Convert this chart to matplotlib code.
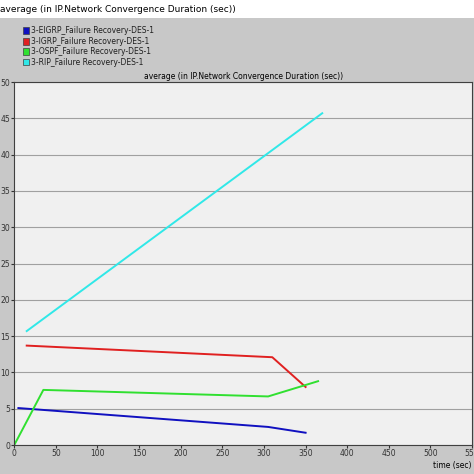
import matplotlib

matplotlib.use("Agg")
import matplotlib.pyplot as plt
from matplotlib.patches import Rectangle

# (time in sec, convergence duration in sec)
eigrp_t = [5, 305, 350]
eigrp_v = [5.1, 2.5, 1.7]
igrp_t = [15, 310, 350]
igrp_v = [13.7, 12.1, 8.0]
ospf_t = [0, 35, 305, 365]
ospf_v = [0.0, 7.6, 6.7, 8.8]
rip_t = [15, 370]
rip_v = [15.7, 45.7]

LABELS = [
    "3-EIGRP_Failure Recovery-DES-1",
    "3-IGRP_Failure Recovery-DES-1",
    "3-OSPF_Failure Recovery-DES-1",
    "3-RIP_Failure Recovery-DES-1",
]
COLORS = ["#1010c0", "#e02020", "#30e030", "#30e8e8"]

fig = plt.figure(figsize=(4.74, 4.74), dpi=100)
fig.patch.set_facecolor("#c8c8c8")

# window title strip
fig.patches.append(Rectangle((0, 0.962), 1, 0.038, transform=fig.transFigure,
                             facecolor="white", edgecolor="none"))
fig.text(0.0, 0.981, "average (in IP.Network Convergence Duration (sec))",
         fontsize=6.5, va="center", ha="left")

ax = fig.add_axes([0.03, 0.061, 0.966, 0.766])
ax.set_facecolor("#f0f0f0")
series = [(eigrp_t, eigrp_v), (igrp_t, igrp_v), (ospf_t, ospf_v), (rip_t, rip_v)]
for (t, v), c in zip(series, COLORS):
    ax.plot(t, v, color=c, lw=1.4)

ax.set_xlim(0, 550)
ax.set_ylim(0, 50)
ax.set_xticks(range(0, 551, 50))
ax.set_yticks(range(0, 51, 5))
ax.tick_params(labelsize=5.5, length=2, pad=1, colors="#333333")
ax.yaxis.grid(True, color="#a0a0a0", lw=0.8)
ax.set_axisbelow(True)
for s in ax.spines.values():
    s.set_color("#404040")
ax.set_title("average (in IP.Network Convergence Duration (sec))",
             fontsize=5.5, pad=2)
fig.text(0.995, 0.008, "time (sec)", fontsize=5.5, ha="right", va="bottom")

# legend block
for i, (lab, c) in enumerate(zip(LABELS, COLORS)):
    y = 0.935 - i * 0.022
    fig.patches.append(Rectangle((0.048, y - 0.007), 0.013, 0.014,
                                 transform=fig.transFigure, facecolor=c,
                                 edgecolor="#404040", lw=0.5))
    fig.text(0.066, y, lab, fontsize=5.5, va="center", color="#202020")

plt.savefig("out.png", dpi=100, facecolor=fig.get_facecolor())
